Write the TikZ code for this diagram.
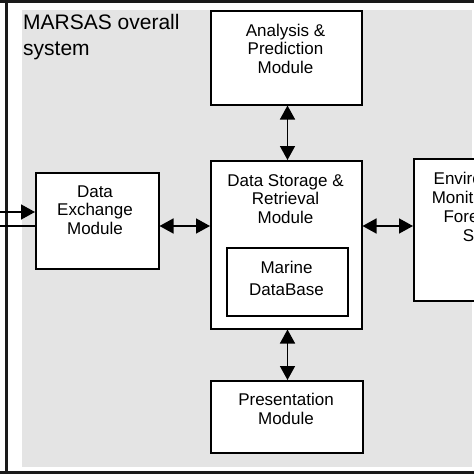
\documentclass[tikz,border=0pt]{standalone}
\usepackage{fontspec}
\setmainfont{Liberation Sans}
\usetikzlibrary{arrows.meta,positioning}

\definecolor{panelgray}{RGB}{228,228,228}
\definecolor{framedark}{RGB}{26,26,26}

\tikzset{
  module/.style={draw=black, fill=white, line width=1.5pt, inner sep=0pt, anchor=north west},
  boxtext/.style={anchor=base, align=center, inner sep=0pt, font=\fontsize{17}{18.5}\selectfont},
  link/.style={line width=1.5pt, {Triangle[length=14pt,width=15pt]}-{Triangle[length=14pt,width=15pt]}},
  feed/.style={line width=1.5pt, -{Triangle[length=14pt,width=15pt]}}
}

\begin{document}
\begin{tikzpicture}[x=1pt,y=-1pt]
\useasboundingbox (0,0) rectangle (474,474);
\clip (0,0) rectangle (474,474);
\fill[panelgray] (22,10) rectangle (472,467); % edit here for the gray panel
\fill[framedark] (0,0) rectangle (474,3);
\fill[framedark] (0,471) rectangle (474,474);
\fill[framedark] (5,0) rectangle (8,474);

\node[anchor=base west, align=left, inner sep=0pt, font=\fontsize{21}{26}\selectfont] (title) at (23,55) {MARSAS overall\\system};

% the modules (text nodes sit on the baseline of their last line)
\node[module, minimum width=151pt, minimum height=94pt] (ana) at (210,10) {};
\node[boxtext] (anatext) at (285.5,73) {Analysis \&\\Prediction\\Module};
\node[module, minimum width=151pt, minimum height=168pt] (ds) at (210,160) {};
\node[boxtext] (dstext) at (285.5,223) {Data Storage \&\\Retrieval\\Module};
\node[module, minimum width=121pt, minimum height=68pt] (db) at (226,247) {};
\node[boxtext, font=\fontsize{17}{22}\selectfont] (dbtext) at (286.5,295) {Marine\\DataBase};
\node[module, minimum width=152pt, minimum height=72pt] (pres) at (210,380) {};
\node[boxtext] (prestext) at (286,424) {Presentation\\Module};
\node[module, minimum width=123pt, minimum height=96pt] (de) at (35,172) {};
\node[boxtext] (detext) at (95,234) {Data\\Exchange\\Module};
\node[module, minimum width=150pt, minimum height=142pt] (env) at (413,158) {};
\node[boxtext, font=\fontsize{17}{19}\selectfont] (envtext) at (488,241) {Environmental\\Monitoring and\\Forecasting\\Server};

% the links
\coordinate (midcol) at (287.5,0);
\coordinate (midrow) at (0,226);
\coordinate (feedin) at (-5,212);
\coordinate (feedout) at (-5,226);
\foreach \from/\to in {ana/ds,ds/pres} % edit here for the vertical links
\draw[link] (\from.south -| midcol) -- (\to.north -| midcol);
\foreach \from/\to in {de/ds,ds/env} % edit here for the horizontal links
\draw[link] (\from.east |- midrow) -- (\to.west |- midrow);
\draw[feed] (feedin) -- (feedin -| de.west);
\draw[line width=1.5pt] (feedout) -- (feedout -| de.west);

\end{tikzpicture}
\end{document}
